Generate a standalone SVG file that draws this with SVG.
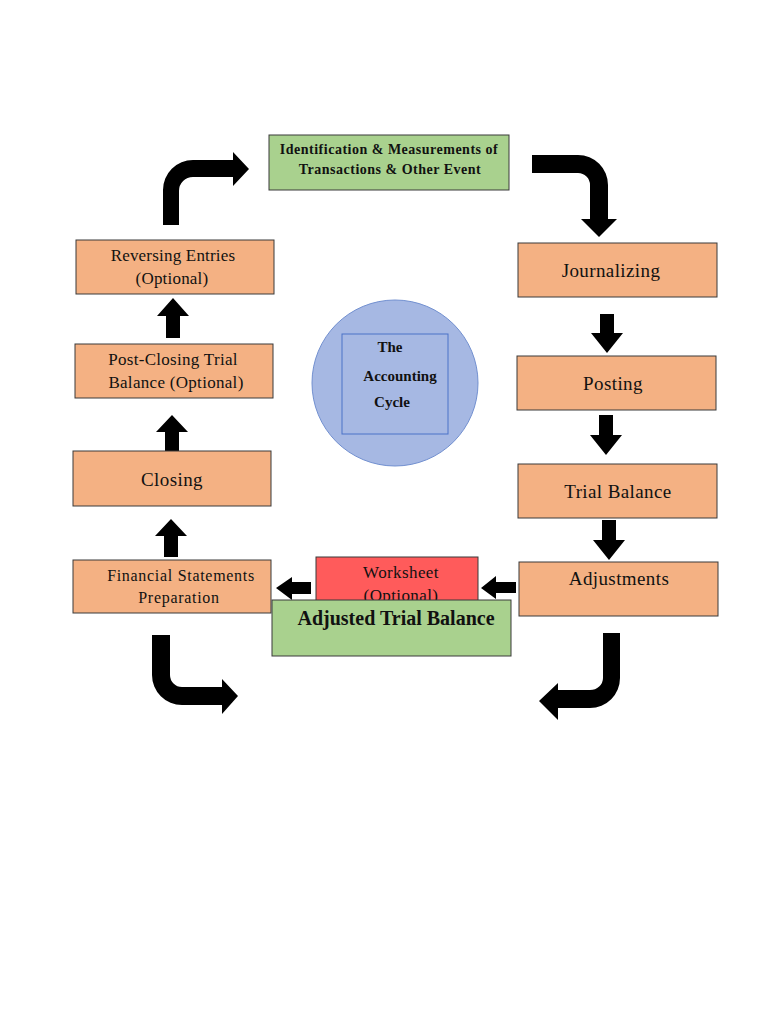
<svg xmlns="http://www.w3.org/2000/svg" width="768" height="1024" viewBox="0 0 768 1024">
<style>
.box{stroke:#3a3a3a;stroke-width:1}
.or{fill:#F4B183}
.gr{fill:#A9D18E}
.rd{fill:#FF5B5B}
.t{font-family:"Liberation Serif","Times New Roman",serif;fill:#111;text-anchor:middle}
.big{font-size:19px;letter-spacing:0.4px}
.arr{fill:#000}
</style>
<rect width="768" height="1024" fill="#fff"/>
<g id="connectors">
<path class="arr" d="M163,225 L163,190 A30,30 0 0 1 193,160 L233,160 L233,152 L249,169 L233,186 L233,177 L193,177 A14,14 0 0 0 179,191 L179,225 Z"/>
<path class="arr" d="M532,155 L578,155 A30,30 0 0 1 608,185 L608,219 L617,219 L599,237 L581,219 L590,219 L590,185 A12,12 0 0 0 578,173 L532,173 Z"/>
<path class="arr" d="M600,314 L614,314 L614,333 L623,333 L607,353 L591,333 L600,333 Z"/>
<path class="arr" d="M599,415 L613,415 L613,435 L622,435 L606,455 L590,435 L599,435 Z"/>
<path class="arr" d="M602,520 L616,520 L616,540 L625,540 L609,560 L593,540 L602,540 Z"/>
<path class="arr" d="M516,582 L516,593 L496,593 L496,599 L481,588 L496,576 L496,582 Z"/>
<path class="arr" d="M311,582 L311,594 L292,594 L292,600 L276,588 L292,577 L292,582 Z"/>
<path class="arr" d="M164,557 L178,557 L178,536 L187,536 L171,519 L155,536 L164,536 Z"/>
<path class="arr" d="M165,453 L179,453 L179,432 L188,432 L172,415 L156,432 L165,432 Z"/>
<path class="arr" d="M166,338 L180,338 L180,316 L189,316 L173,298 L157,316 L166,316 Z"/>
<path class="arr" d="M152,635 L152,675 A30,30 0 0 0 182,705 L222,705 L222,714 L238,696 L222,679 L222,687 L182,687 A12,12 0 0 1 170,675 L170,635 Z"/>
<path class="arr" d="M620,633 L620,678 A30,30 0 0 1 590,708 L558,708 L558,720 L539,701 L558,683 L558,690 L590,690 A13,12 0 0 0 603,678 L603,633 Z"/>
</g>
<g id="identification">
<rect class="box gr" x="269" y="135" width="240" height="55"/>
<text class="t" x="389" y="154" font-size="14" font-weight="bold" letter-spacing="0.5">Identification &amp; Measurements of</text>
<text class="t" x="390" y="174" font-size="14" font-weight="bold" letter-spacing="0.5">Transactions &amp; Other Event</text>
</g>
<g id="journalizing">
<rect class="box or" x="518" y="243" width="199" height="54"/>
<text class="t big" x="611" y="277">Journalizing</text>
</g>
<g id="posting">
<rect class="box or" x="517" y="356" width="199" height="54"/>
<text class="t big" x="613" y="390">Posting</text>
</g>
<g id="trial-balance">
<rect class="box or" x="518" y="464" width="199" height="54"/>
<text class="t big" x="618" y="498">Trial Balance</text>
</g>
<g id="adjustments">
<rect class="box or" x="519" y="562" width="199" height="54"/>
<text class="t big" x="619" y="585">Adjustments</text>
</g>
<g id="worksheet">
<rect class="box rd" x="316" y="557" width="162" height="50"/>
<text class="t" x="401" y="578" font-size="17" letter-spacing="0.4">Worksheet</text>
<text class="t" x="401" y="601" font-size="17" letter-spacing="0.4">(Optional)</text>
</g>
<g id="adjusted-trial-balance">
<rect class="box gr" x="272" y="600" width="239" height="56"/>
<text class="t" x="396" y="625" font-size="20" font-weight="bold">Adjusted Trial Balance</text>
</g>
<g id="financial-statements">
<rect class="box or" x="73" y="560" width="198" height="53"/>
<text class="t" x="181" y="581" font-size="16" letter-spacing="0.7">Financial Statements</text>
<text class="t" x="179" y="603" font-size="16" letter-spacing="0.7">Preparation</text>
</g>
<g id="closing">
<rect class="box or" x="73" y="451" width="198" height="55"/>
<text class="t big" x="172" y="486">Closing</text>
</g>
<g id="post-closing">
<rect class="box or" x="75" y="344" width="198" height="54"/>
<text class="t" x="173" y="365" font-size="17" letter-spacing="0.3">Post-Closing Trial</text>
<text class="t" x="176" y="388" font-size="17" letter-spacing="0.3">Balance (Optional)</text>
</g>
<g id="reversing">
<rect class="box or" x="76" y="240" width="198" height="54"/>
<text class="t" x="173" y="261" font-size="17" letter-spacing="0.2">Reversing Entries</text>
<text class="t" x="172" y="284" font-size="17" letter-spacing="0.2">(Optional)</text>
</g>
<g id="accounting-cycle">
<circle cx="395" cy="383" r="83" fill="#A6B8E3" stroke="#7290D0" stroke-width="1"/>
<rect x="342" y="334" width="106" height="100" fill="none" stroke="#4A72C8" stroke-width="1"/>
<text class="t" x="390" y="352" font-size="15" font-weight="bold">The</text>
<text class="t" x="400" y="381" font-size="15" font-weight="bold">Accounting</text>
<text class="t" x="392" y="407" font-size="15" font-weight="bold">Cycle</text>
</g>
</svg>
